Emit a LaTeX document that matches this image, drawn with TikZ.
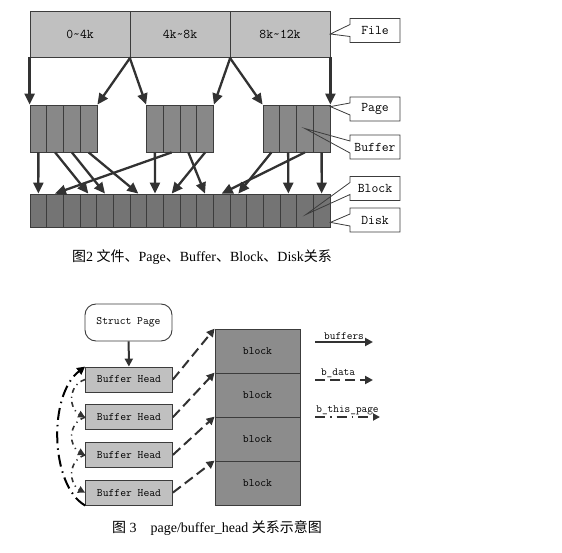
\documentclass[tikz,border=0pt]{standalone}
\usepackage{fontspec}
\usepackage{tikz}
\usetikzlibrary{calc,arrows.meta,shapes.callouts}
\newfontfamily\cjk{Noto Sans CJK SC}
\newfontfamily\capfont{Liberation Serif}
\newcommand\zh[1]{{\cjk #1}}
\definecolor{filegray}{RGB}{192,192,192}
\definecolor{pagegray}{RGB}{136,136,136}
\definecolor{diskgray}{RGB}{116,116,116}
\definecolor{blockgray}{RGB}{140,140,140}
\definecolor{edgegray}{RGB}{60,60,60}
\definecolor{arrowgray}{RGB}{50,50,50}

\begin{document}
\begin{tikzpicture}[x=1pt, y=-1pt]
        \tikzset{
          cell/.style={draw=edgegray, line width=0.8pt, inner sep=0pt},
          filecell/.style={cell, fill=filegray, minimum width=100pt, minimum height=46pt, font=\ttfamily\fontsize{13.3}{13.3}\selectfont},
          pagecell/.style={cell, fill=pagegray, minimum width=16.75pt, minimum height=47pt},
          diskcell/.style={cell, fill=diskgray, minimum width=16.667pt, minimum height=33pt},
          tag/.style={rectangle callout, draw=edgegray, line width=0.8pt, minimum width=50pt, minimum height=24pt, inner sep=0pt, callout pointer width=12pt, font=\ttfamily\fontsize{13.3}{13.3}\selectfont},
          headbox/.style={cell, fill=filegray, minimum width=87pt, minimum height=25pt, font=\ttfamily\fontsize{11.3}{11.3}\selectfont},
          blockbox/.style={cell, fill=blockgray, minimum width=85pt, minimum height=44pt, font=\ttfamily\fontsize{11.3}{11.3}\selectfont},
          legend/.style={font=\ttfamily\fontsize{11}{11}\selectfont, above, inner sep=1.5pt},
          link/.style={draw=arrowgray, line width=2.3pt, -{Triangle[length=11pt,width=10pt]}},
          datalink/.style={draw=arrowgray, line width=2pt, dash pattern=on 10pt off 5pt, -{Triangle[length=8pt,width=8pt]}},
          nextlink/.style={draw=arrowgray, line width=1.6pt, dash pattern=on 5pt off 4pt on 1.2pt off 4pt, -{Triangle[length=7pt,width=7pt]}},
          backlink/.style={draw=black, line width=2pt, dash pattern=on 12pt off 5pt on 1.5pt off 5pt, -{Triangle[length=8pt,width=8pt]}}
        }
        \useasboundingbox (0,0) rectangle (562,553);

        % file, pages, disk
        \node[filecell] (f1) at ( 80, 34) {0\~{}4k};
        \node[filecell] (f2) at (180, 34) {4k\~{}8k};
        \node[filecell] (f3) at (280, 34) {8k\~{}12k};

        \foreach \g/\x in {0/30, 1/146.5, 2/263}
          \foreach \j in {1,...,4} {
            \pgfmathtruncatemacro\k{4*\g+\j}
            \node[pagecell] (p\k) at ({\x+(\j-0.5)*16.75}, 128.5) {};
          }
        \foreach \i in {1,...,18}
          \node[diskcell] (d\i) at ({30+(\i-0.5)*300/18}, 210.5) {};

        \draw[link] (f1.south west) -- (p1.north west);
        \draw[link] (f1.south east) -- (p4.north east);
        \draw[link] (f2.south west) -- (p5.north west);
        \draw[link] (f2.south east) -- (p8.north east);
        \draw[link] (f3.south west) -- (p9.north west);
        \draw[link] (f3.south east) -- (p12.north east);

        \foreach \a/\b in {1/1, 2/4, 3/5, 4/7, 5/8, 6/2, 7/11, 8/9, 9/13, 10/16, 11/12, 12/18}
          \draw[link] (p\a.south) -- (d\b.north);

        \node[tag, callout absolute pointer={(f3.east)}] (tFile) at (375, 30.5) {File};
        \node[tag, callout absolute pointer={($(p12.north east)+(0,2)$)}] (tPage) at (375, 109) {Page};
        \node[tag, callout absolute pointer={(p11.center)}] (tBuffer) at (375, 147) {Buffer};
        \node[tag, callout absolute pointer={($(d17.center)+(1,4)$)}] (tBlock) at (375, 188.5) {Block};
        \node[tag, callout absolute pointer={($(d18.south east)+(0,-5)$)}] (tDisk) at (375, 220) {Disk};

        \node[font=\capfont\fontsize{14}{14}\selectfont] (cap1) at (202, 257)
          {\zh{图}2 \zh{文件、}Page\zh{、}Buffer\zh{、}Block\zh{、}Disk\zh{关系}};

        % page and buffer heads
        \node[draw=edgegray, line width=0.9pt, rounded corners=11pt, minimum width=87pt, minimum height=37pt,
              inner sep=0pt, font=\ttfamily\fontsize{11.3}{11.3}\selectfont] (sp) at (128.5, 322.5) {Struct Page};
        \foreach \i in {1,...,4}
          \node[headbox] (bh\i) at (129, {379.5+37.7*(\i-1)}) {Buffer Head};
        \foreach \i in {1,...,4}
          \node[blockbox] (b\i) at (257.5, {351+44*(\i-1)}) {block};

        \draw[link, line width=2pt, -{Triangle[length=8pt,width=8pt]}] (sp) -- (bh1);
        \foreach \i in {1,...,4}
          \draw[datalink] (bh\i.east) -- (b\i.north west);
        \foreach \i/\j in {1/2, 2/3, 3/4}
          \draw[nextlink] (bh\i.west) .. controls +(-18,6) and +(-16,-8) .. (bh\j.west);
        \draw[backlink] (bh4.south west) .. controls (50,485) and (48,395) .. (bh1.north west);

        \coordinate (buf0) at (315, 342);
        \coordinate (buf1) at (373, 342);
        \coordinate (dat0) at (315, 380);
        \coordinate (dat1) at (373, 380);
        \coordinate (thp0) at (315, 417);
        \coordinate (thp1) at (380, 417);
        \draw[link, line width=2pt, -{Triangle[length=8pt,width=8pt]}] (buf0) -- node[legend] {buffers} (buf1);
        \draw[datalink] (dat0) -- node[legend, xshift=-6pt] {b\_data} (dat1);
        \draw[nextlink, line width=1.8pt, dash pattern=on 10pt off 5pt on 1.5pt off 5pt] (thp0) -- node[legend] {b\_this\_page} (thp1);

        \node[font=\capfont\fontsize{14}{14}\selectfont] (cap2) at (217, 528)
          {\zh{图} 3\quad page/buffer\_head \zh{关系示意图}};
\end{tikzpicture}
\end{document}
